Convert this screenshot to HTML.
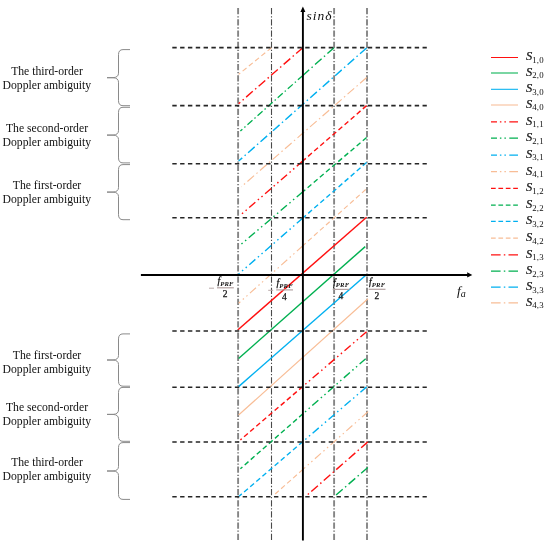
<!DOCTYPE html>
<html lang="en">
<head>
<meta charset="utf-8">
<title>Doppler ambiguity diagram</title>
<style>
html,body{margin:0;padding:0;background:#fff;}
body{width:550px;height:546px;overflow:hidden;}
svg{display:block;}
.lbl{font-family:"Liberation Serif",serif;font-size:11.7px;fill:#111;text-anchor:middle;}
.m{font-family:"Liberation Serif",serif;font-style:italic;fill:#111;}
.n{font-family:"Liberation Serif",serif;fill:#111;}
</style>
</head>
<body>
<svg width="550" height="546" viewBox="0 0 550 546">
<rect width="550" height="546" fill="#ffffff"/>

<g fill="none">
<line x1="238.1" y1="8.1" x2="238.1" y2="539.9" stroke="#858585" stroke-width="1.9" stroke-dasharray="6.25 1.83 1.27 1.833"/>
<line x1="271.5" y1="8.1" x2="271.5" y2="539.9" stroke="#4a4a4a" stroke-width="1.1" stroke-dasharray="6.25 1.83 1.27 1.833"/>
<line x1="334.1" y1="8.1" x2="334.1" y2="539.9" stroke="#858585" stroke-width="1.9" stroke-dasharray="6.25 1.83 1.27 1.833"/>
<line x1="367.0" y1="8.1" x2="367.0" y2="539.9" stroke="#858585" stroke-width="1.9" stroke-dasharray="6.25 1.83 1.27 1.833"/>
</g>
<g fill="none" stroke-linecap="butt">
<line x1="271.5" y1="47.7" x2="238.6" y2="74.4" stroke="#f8bd96" stroke-width="1.15" stroke-dasharray="5 3.05"/>
<line x1="302.8" y1="47.7" x2="238.6" y2="103.7" stroke="#ff1010" stroke-width="1.4" stroke-dasharray="8.8 3.15 1.5 3.15"/>
<line x1="302.9" y1="75.4" x2="240.4" y2="131.0" stroke="#00b050" stroke-width="1.3" stroke-dasharray="6.7 2.7 1.4 2.7"/>
<line x1="334.0" y1="47.7" x2="302.9" y2="75.4" stroke="#00b050" stroke-width="1.4" stroke-dasharray="8.8 3.15 1.5 3.15"/>
<line x1="366.6" y1="47.9" x2="238.6" y2="161.1" stroke="#00b0f0" stroke-width="1.4" stroke-dasharray="8.8 3.15 1.5 3.15"/>
<line x1="366.7" y1="77.5" x2="241.3" y2="186.8" stroke="#f8bd96" stroke-width="1.15" stroke-dasharray="8.8 3.15 1.5 3.15"/>
<line x1="302.9" y1="160.9" x2="240.4" y2="215.2" stroke="#ff1010" stroke-width="1.4" stroke-dasharray="8.1 3.3 1.5 3.3 1.5 3.3"/>
<line x1="366.6" y1="105.6" x2="302.9" y2="160.9" stroke="#ff1010" stroke-width="1.4" stroke-dasharray="5 3.05"/>
<line x1="302.9" y1="191.7" x2="239.1" y2="246.0" stroke="#00b050" stroke-width="1.4" stroke-dasharray="8.1 3.3 1.5 3.3 1.5 3.3"/>
<line x1="366.6" y1="137.5" x2="302.9" y2="191.7" stroke="#00b050" stroke-width="1.4" stroke-dasharray="5 3.05"/>
<line x1="302.9" y1="218.0" x2="238.6" y2="274.0" stroke="#00b0f0" stroke-width="1.4" stroke-dasharray="8.1 3.3 1.5 3.3 1.5 3.3"/>
<line x1="366.6" y1="162.5" x2="302.9" y2="218.0" stroke="#00b0f0" stroke-width="1.4" stroke-dasharray="5 3.05"/>
<line x1="302.9" y1="245.7" x2="238.6" y2="303.3" stroke="#f8bd96" stroke-width="1.15" stroke-dasharray="8.1 3.3 1.5 3.3 1.5 3.3"/>
<line x1="365.7" y1="189.5" x2="302.9" y2="245.7" stroke="#f8bd96" stroke-width="1.15" stroke-dasharray="5 3.05"/>
<line x1="366.6" y1="217.3" x2="238.0" y2="329.8" stroke="#ff1010" stroke-width="1.45"/>
<line x1="365.2" y1="246.6" x2="238.6" y2="358.5" stroke="#00b050" stroke-width="1.45"/>
<line x1="366.6" y1="274.5" x2="238.6" y2="386.6" stroke="#00b0f0" stroke-width="1.45"/>
<line x1="368.0" y1="298.8" x2="238.6" y2="415.0" stroke="#f8bd96" stroke-width="1.15"/>
<line x1="302.9" y1="386.4" x2="240.4" y2="439.9" stroke="#ff1010" stroke-width="1.4" stroke-dasharray="5 3.05"/>
<line x1="366.6" y1="331.8" x2="302.9" y2="386.4" stroke="#ff1010" stroke-width="1.4" stroke-dasharray="8.1 3.3 1.5 3.3 1.5 3.3"/>
<line x1="302.9" y1="413.8" x2="240.4" y2="468.7" stroke="#00b050" stroke-width="1.4" stroke-dasharray="5 3.05"/>
<line x1="365.7" y1="358.7" x2="302.9" y2="413.8" stroke="#00b050" stroke-width="1.4" stroke-dasharray="8.1 3.3 1.5 3.3 1.5 3.3"/>
<line x1="302.9" y1="441.5" x2="239.1" y2="496.2" stroke="#00b0f0" stroke-width="1.4" stroke-dasharray="5 3.05"/>
<line x1="366.6" y1="386.9" x2="302.9" y2="441.5" stroke="#00b0f0" stroke-width="1.4" stroke-dasharray="8.1 3.3 1.5 3.3 1.5 3.3"/>
<line x1="302.9" y1="469.4" x2="275.2" y2="494.0" stroke="#f8bd96" stroke-width="1.15" stroke-dasharray="5 3.05"/>
<line x1="368.1" y1="411.6" x2="302.9" y2="469.4" stroke="#f8bd96" stroke-width="1.15" stroke-dasharray="8.1 3.3 1.5 3.3 1.5 3.3"/>
<line x1="367.8" y1="441.9" x2="305.6" y2="496.5" stroke="#ff1010" stroke-width="1.4" stroke-dasharray="8.8 3.15 1.5 3.15"/>
<line x1="367.8" y1="467.5" x2="335.4" y2="495.6" stroke="#00b050" stroke-width="1.4" stroke-dasharray="8.8 3.15 1.5 3.15"/>
</g>
<g fill="none">
<line x1="172.3" y1="47.6" x2="426.8" y2="47.6" stroke="#262626" stroke-width="1.55" stroke-dasharray="4.4 3.42"/>
<line x1="172.3" y1="105.6" x2="426.8" y2="105.6" stroke="#262626" stroke-width="1.55" stroke-dasharray="4.4 3.42"/>
<line x1="172.3" y1="163.8" x2="426.8" y2="163.8" stroke="#262626" stroke-width="1.55" stroke-dasharray="4.4 3.42"/>
<line x1="172.3" y1="217.8" x2="426.8" y2="217.8" stroke="#262626" stroke-width="1.55" stroke-dasharray="4.4 3.42"/>
<line x1="172.3" y1="331.0" x2="426.8" y2="331.0" stroke="#262626" stroke-width="1.55" stroke-dasharray="4.4 3.42"/>
<line x1="172.3" y1="387.2" x2="426.8" y2="387.2" stroke="#262626" stroke-width="1.55" stroke-dasharray="4.4 3.42"/>
<line x1="172.3" y1="442.0" x2="426.8" y2="442.0" stroke="#262626" stroke-width="1.55" stroke-dasharray="4.4 3.42"/>
<line x1="172.3" y1="496.7" x2="426.8" y2="496.7" stroke="#262626" stroke-width="1.55" stroke-dasharray="4.4 3.42"/>
</g>
<line x1="140.9" y1="274.9" x2="468" y2="274.9" stroke="#000" stroke-width="2"/>
<polygon points="472.3,274.9 467.2,272.29999999999995 467.2,277.5" fill="#000"/>
<line x1="302.9" y1="12" x2="302.9" y2="540.5" stroke="#000" stroke-width="1.9"/>
<polygon points="302.9,6.6 300.4,12 305.4,12" fill="#000"/>
<path d="M130,49.6 L123.0,49.6 Q118.5,49.6 118.5,54.6 L118.5,73.2 Q118.5,77.4 113.0,77.7 L107,77.7 L113.0,77.7 Q118.5,78.0 118.5,82.2 L118.5,100.7 Q118.5,105.7 123.0,105.7 L130,105.7" fill="none" stroke="#8a8a8a" stroke-width="1" stroke-linejoin="round"/>
<path d="M130,107.3 L123.0,107.3 Q118.5,107.3 118.5,112.3 L118.5,130.6 Q118.5,134.8 113.0,135.1 L107,135.1 L113.0,135.1 Q118.5,135.4 118.5,139.6 L118.5,157.9 Q118.5,162.9 123.0,162.9 L130,162.9" fill="none" stroke="#8a8a8a" stroke-width="1" stroke-linejoin="round"/>
<path d="M130,164.6 L123.0,164.6 Q118.5,164.6 118.5,169.6 L118.5,187.6 Q118.5,191.8 113.0,192.1 L107,192.1 L113.0,192.1 Q118.5,192.4 118.5,196.6 L118.5,214.7 Q118.5,219.7 123.0,219.7 L130,219.7" fill="none" stroke="#8a8a8a" stroke-width="1" stroke-linejoin="round"/>
<path d="M130,333.9 L123.0,333.9 Q118.5,333.9 118.5,338.9 L118.5,355.5 Q118.5,359.7 113.0,360.0 L107,360.0 L113.0,360.0 Q118.5,360.3 118.5,364.5 L118.5,381.2 Q118.5,386.2 123.0,386.2 L130,386.2" fill="none" stroke="#8a8a8a" stroke-width="1" stroke-linejoin="round"/>
<path d="M130,387.4 L123.0,387.4 Q118.5,387.4 118.5,392.4 L118.5,409.9 Q118.5,414.1 113.0,414.4 L107,414.4 L113.0,414.4 Q118.5,414.7 118.5,418.9 L118.5,436.3 Q118.5,441.3 123.0,441.3 L130,441.3" fill="none" stroke="#8a8a8a" stroke-width="1" stroke-linejoin="round"/>
<path d="M130,442.6 L123.0,442.6 Q118.5,442.6 118.5,447.6 L118.5,466.5 Q118.5,470.7 113.0,471.0 L107,471.0 L113.0,471.0 Q118.5,471.3 118.5,475.5 L118.5,494.4 Q118.5,499.4 123.0,499.4 L130,499.4" fill="none" stroke="#8a8a8a" stroke-width="1" stroke-linejoin="round"/>
<text class="lbl" x="47" y="74.5">The third-order</text>
<text class="lbl" x="46.9" y="89.1">Doppler ambiguity</text>
<text class="lbl" x="47" y="131.8">The second-order</text>
<text class="lbl" x="46.9" y="145.6">Doppler ambiguity</text>
<text class="lbl" x="47" y="189">The first-order</text>
<text class="lbl" x="46.9" y="203.2">Doppler ambiguity</text>
<text class="lbl" x="47" y="359">The first-order</text>
<text class="lbl" x="46.9" y="373.2">Doppler ambiguity</text>
<text class="lbl" x="47" y="411">The second-order</text>
<text class="lbl" x="46.9" y="425">Doppler ambiguity</text>
<text class="lbl" x="47" y="466">The third-order</text>
<text class="lbl" x="46.9" y="480">Doppler ambiguity</text>
<text class="m" x="306.5" y="20" font-size="13.5" letter-spacing="1.0">sinδ</text>
<text class="m" x="457" y="294.8" font-size="13.5">f<tspan font-size="10" dy="2.4">a</tspan></text>
<line x1="209.0" y1="288.2" x2="214.0" y2="288.2" stroke="#b9a9a9" stroke-width="1"/>
<text class="m" x="217.4" y="283.9" font-size="9.8" stroke="#111" stroke-width="0.25">f<tspan font-size="6.6" dy="1.8" letter-spacing="0.25" font-weight="bold" stroke="none">PRF</tspan></text>
<line x1="217.0" y1="287.8" x2="233.8" y2="287.8" stroke="#b3a2a2" stroke-width="1.2"/>
<text class="n" x="225.2" y="296.7" font-size="9.5" text-anchor="middle" stroke="#111" stroke-width="0.25">2</text>
<line x1="268.2" y1="290.3" x2="273.2" y2="290.3" stroke="#b9a9a9" stroke-width="1"/>
<text class="m" x="276.6" y="286.0" font-size="9.8" stroke="#111" stroke-width="0.25">f<tspan font-size="6.6" dy="1.8" letter-spacing="0.25" font-weight="bold" stroke="none">PRF</tspan></text>
<line x1="276.2" y1="289.9" x2="293.0" y2="289.9" stroke="#b3a2a2" stroke-width="1.2"/>
<text class="n" x="284.4" y="299.7" font-size="9.5" text-anchor="middle" stroke="#111" stroke-width="0.25">4</text>
<text class="m" x="333.1" y="285.5" font-size="9.8" stroke="#111" stroke-width="0.25">f<tspan font-size="6.6" dy="1.8" letter-spacing="0.25" font-weight="bold" stroke="none">PRF</tspan></text>
<line x1="332.7" y1="289.4" x2="349.5" y2="289.4" stroke="#b3a2a2" stroke-width="1.2"/>
<text class="n" x="340.9" y="298.7" font-size="9.5" text-anchor="middle" stroke="#111" stroke-width="0.25">4</text>
<text class="m" x="369.1" y="285.4" font-size="9.8" stroke="#111" stroke-width="0.25">f<tspan font-size="6.6" dy="1.8" letter-spacing="0.25" font-weight="bold" stroke="none">PRF</tspan></text>
<line x1="368.7" y1="289.3" x2="385.5" y2="289.3" stroke="#b3a2a2" stroke-width="1.2"/>
<text class="n" x="376.9" y="298.6" font-size="9.5" text-anchor="middle" stroke="#111" stroke-width="0.25">2</text>
<line x1="491" y1="57.5" x2="518" y2="57.5" stroke="#ff1010" stroke-width="1.05"/>
<text class="m" x="526" y="60.4" font-size="12.5" stroke="#111" stroke-width="0.2">S<tspan class="n" font-style="normal" font-size="8.8" dy="2.5" letter-spacing="0.2" stroke="none">1,0</tspan></text>
<line x1="491" y1="73.0" x2="518" y2="73.0" stroke="#00b050" stroke-width="1.05"/>
<text class="m" x="526" y="75.9" font-size="12.5" stroke="#111" stroke-width="0.2">S<tspan class="n" font-style="normal" font-size="8.8" dy="2.5" letter-spacing="0.2" stroke="none">2,0</tspan></text>
<line x1="491" y1="89.3" x2="518" y2="89.3" stroke="#00b0f0" stroke-width="1.05"/>
<text class="m" x="526" y="92.2" font-size="12.5" stroke="#111" stroke-width="0.2">S<tspan class="n" font-style="normal" font-size="8.8" dy="2.5" letter-spacing="0.2" stroke="none">3,0</tspan></text>
<line x1="491" y1="105" x2="518" y2="105" stroke="#f8bd96" stroke-width="1.05"/>
<text class="m" x="526" y="107.9" font-size="12.5" stroke="#111" stroke-width="0.2">S<tspan class="n" font-style="normal" font-size="8.8" dy="2.5" letter-spacing="0.2" stroke="none">4,0</tspan></text>
<line x1="491" y1="121.8" x2="518" y2="121.8" stroke="#ff1010" stroke-width="1.25" stroke-dasharray="6 2.9 1.5 3 1.5 3.4 12"/>
<text class="m" x="526" y="124.7" font-size="12.5" stroke="#111" stroke-width="0.2">S<tspan class="n" font-style="normal" font-size="8.8" dy="2.5" letter-spacing="0.2" stroke="none">1,1</tspan></text>
<line x1="491" y1="138.1" x2="518" y2="138.1" stroke="#00b050" stroke-width="1.25" stroke-dasharray="6 2.9 1.5 3 1.5 3.4 12"/>
<text class="m" x="526" y="141.0" font-size="12.5" stroke="#111" stroke-width="0.2">S<tspan class="n" font-style="normal" font-size="8.8" dy="2.5" letter-spacing="0.2" stroke="none">2,1</tspan></text>
<line x1="491" y1="155" x2="518" y2="155" stroke="#00b0f0" stroke-width="1.25" stroke-dasharray="6 2.9 1.5 3 1.5 3.4 12"/>
<text class="m" x="526" y="157.9" font-size="12.5" stroke="#111" stroke-width="0.2">S<tspan class="n" font-style="normal" font-size="8.8" dy="2.5" letter-spacing="0.2" stroke="none">3,1</tspan></text>
<line x1="491" y1="171.6" x2="518" y2="171.6" stroke="#f8bd96" stroke-width="1.25" stroke-dasharray="6 2.9 1.5 3 1.5 3.4 12"/>
<text class="m" x="526" y="174.5" font-size="12.5" stroke="#111" stroke-width="0.2">S<tspan class="n" font-style="normal" font-size="8.8" dy="2.5" letter-spacing="0.2" stroke="none">4,1</tspan></text>
<line x1="491" y1="188.3" x2="518" y2="188.3" stroke="#ff1010" stroke-width="1.25" stroke-dasharray="4.7 2.7"/>
<text class="m" x="526" y="191.2" font-size="12.5" stroke="#111" stroke-width="0.2">S<tspan class="n" font-style="normal" font-size="8.8" dy="2.5" letter-spacing="0.2" stroke="none">1,2</tspan></text>
<line x1="491" y1="205.2" x2="518" y2="205.2" stroke="#00b050" stroke-width="1.25" stroke-dasharray="4.7 2.7"/>
<text class="m" x="526" y="208.1" font-size="12.5" stroke="#111" stroke-width="0.2">S<tspan class="n" font-style="normal" font-size="8.8" dy="2.5" letter-spacing="0.2" stroke="none">2,2</tspan></text>
<line x1="491" y1="221.3" x2="518" y2="221.3" stroke="#00b0f0" stroke-width="1.25" stroke-dasharray="4.7 2.7"/>
<text class="m" x="526" y="224.2" font-size="12.5" stroke="#111" stroke-width="0.2">S<tspan class="n" font-style="normal" font-size="8.8" dy="2.5" letter-spacing="0.2" stroke="none">3,2</tspan></text>
<line x1="491" y1="238.1" x2="518" y2="238.1" stroke="#f8bd96" stroke-width="1.25" stroke-dasharray="4.7 2.7"/>
<text class="m" x="526" y="241.0" font-size="12.5" stroke="#111" stroke-width="0.2">S<tspan class="n" font-style="normal" font-size="8.8" dy="2.5" letter-spacing="0.2" stroke="none">4,2</tspan></text>
<line x1="491" y1="254.8" x2="518" y2="254.8" stroke="#ff1010" stroke-width="1.25" stroke-dasharray="9.6 3.2 1.5 3.2 10"/>
<text class="m" x="526" y="257.7" font-size="12.5" stroke="#111" stroke-width="0.2">S<tspan class="n" font-style="normal" font-size="8.8" dy="2.5" letter-spacing="0.2" stroke="none">1,3</tspan></text>
<line x1="491" y1="271.2" x2="518" y2="271.2" stroke="#00b050" stroke-width="1.25" stroke-dasharray="9.6 3.2 1.5 3.2 10"/>
<text class="m" x="526" y="274.1" font-size="12.5" stroke="#111" stroke-width="0.2">S<tspan class="n" font-style="normal" font-size="8.8" dy="2.5" letter-spacing="0.2" stroke="none">2,3</tspan></text>
<line x1="491" y1="287.2" x2="518" y2="287.2" stroke="#00b0f0" stroke-width="1.25" stroke-dasharray="9.6 3.2 1.5 3.2 10"/>
<text class="m" x="526" y="290.1" font-size="12.5" stroke="#111" stroke-width="0.2">S<tspan class="n" font-style="normal" font-size="8.8" dy="2.5" letter-spacing="0.2" stroke="none">3,3</tspan></text>
<line x1="491" y1="302.9" x2="518" y2="302.9" stroke="#f8bd96" stroke-width="1.25" stroke-dasharray="9.6 3.2 1.5 3.2 10"/>
<text class="m" x="526" y="305.8" font-size="12.5" stroke="#111" stroke-width="0.2">S<tspan class="n" font-style="normal" font-size="8.8" dy="2.5" letter-spacing="0.2" stroke="none">4,3</tspan></text>
</svg>
</body>
</html>
